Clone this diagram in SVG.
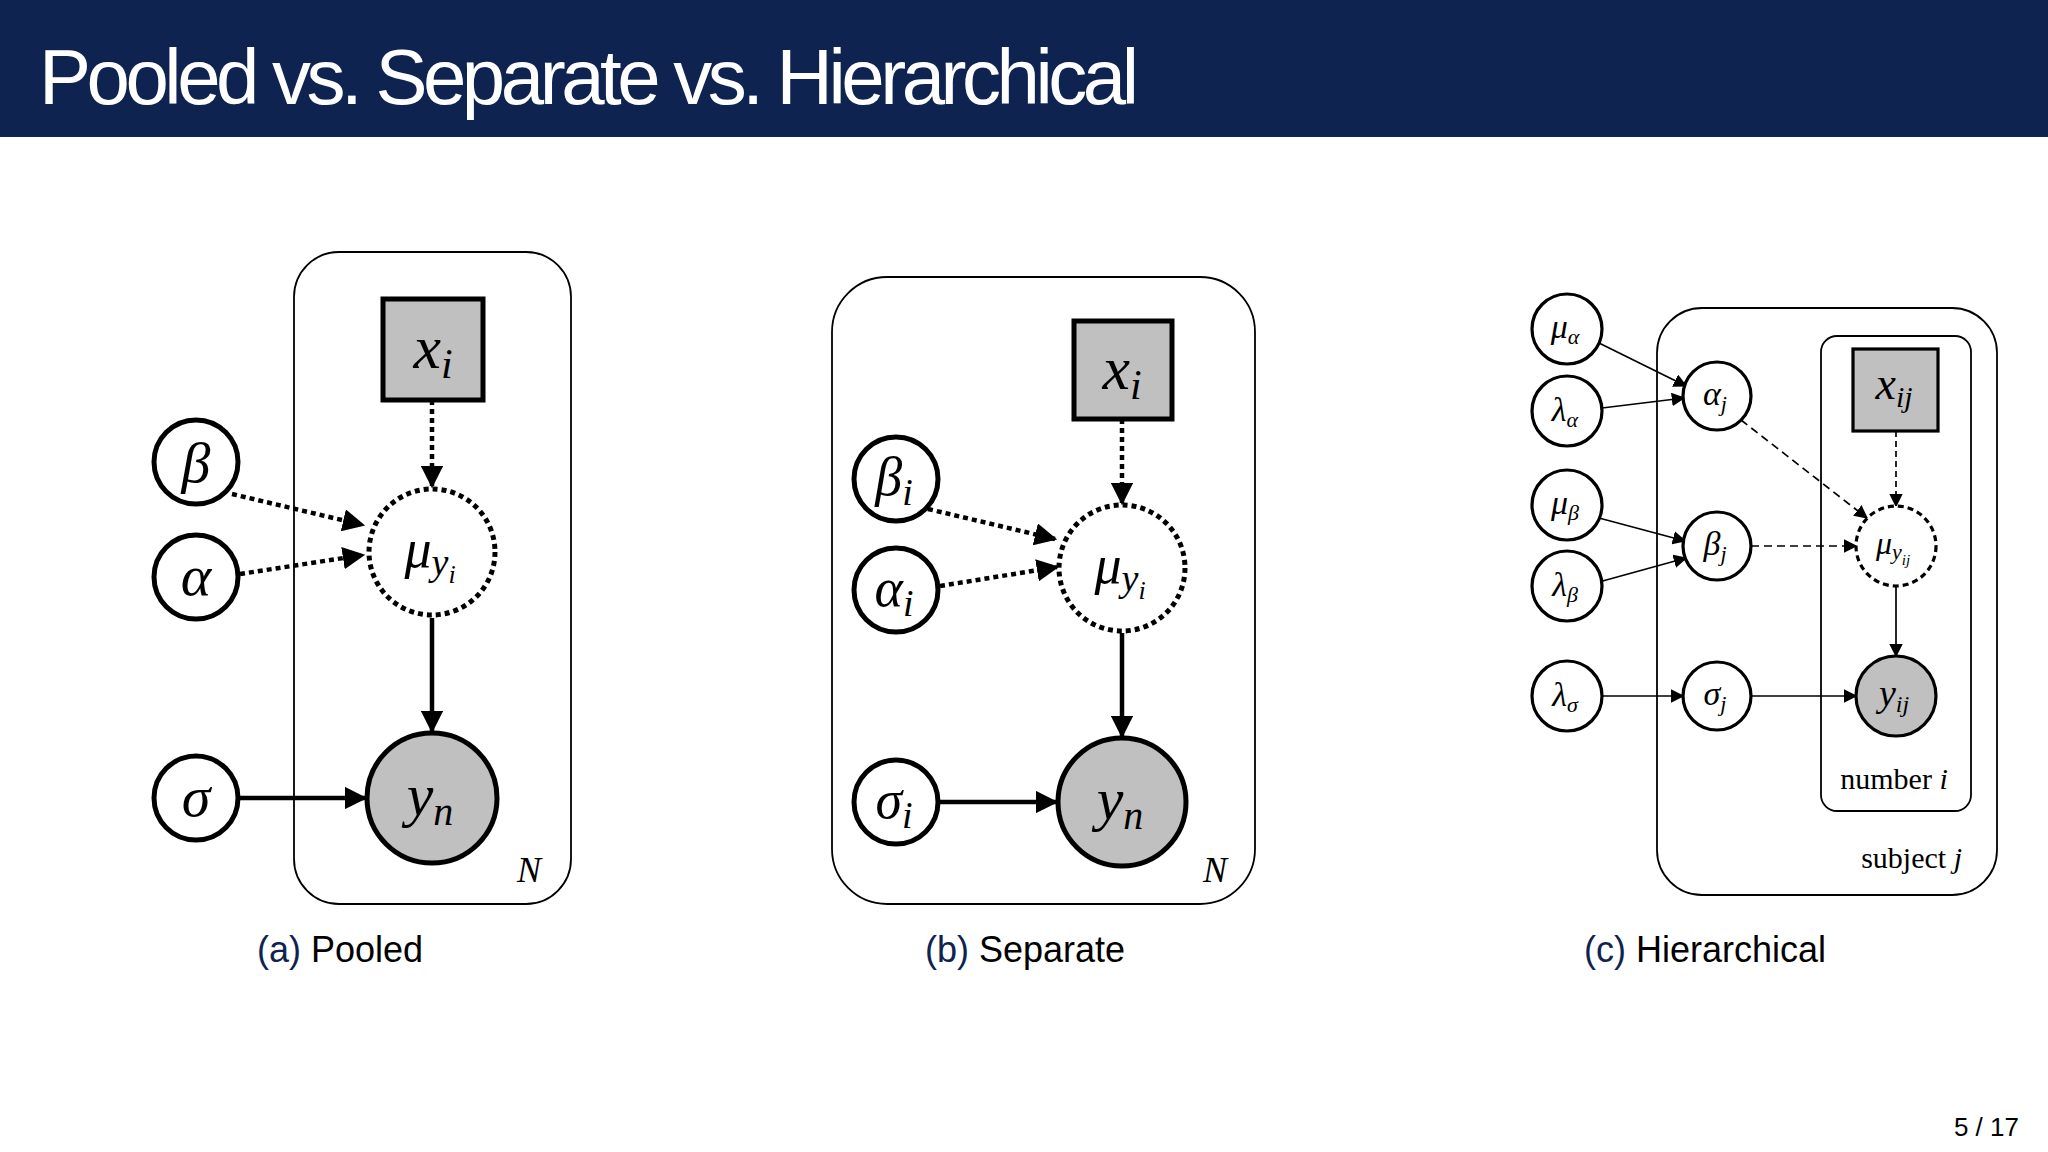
<svg xmlns="http://www.w3.org/2000/svg" width="2048" height="1152" viewBox="0 0 2048 1152">
<style>
.s{font-family:"Liberation Sans","DejaVu Sans",sans-serif}
.m{font-family:"Liberation Serif","DejaVu Serif",serif;font-style:italic;text-anchor:middle}
.r{font-family:"Liberation Serif","DejaVu Serif",serif}
.plate{fill:none;stroke:#000;stroke-width:1.8}
.big{fill:#fff;stroke:#000;stroke-width:5}
.bigo{fill:#c0c0c0;stroke:#000;stroke-width:5}
.sm{fill:#fff;stroke:#000;stroke-width:3.2}
.smo{fill:#c0c0c0;stroke:#000;stroke-width:3.2}
.e{stroke:#000;fill:none}
</style>
<defs>
<marker id="a" viewBox="0 0 10 10" refX="9" refY="5" markerWidth="5" markerHeight="5" orient="auto" markerUnits="strokeWidth"><path d="M0,0L10,5L0,10z" fill="#000"/></marker>
<marker id="b" viewBox="0 0 10 10" refX="9" refY="5" markerWidth="8" markerHeight="8" orient="auto" markerUnits="strokeWidth"><path d="M0,0L10,5L0,10z" fill="#000"/></marker>
</defs>
<rect width="2048" height="1152" fill="#fff"/>
<rect width="2048" height="137" fill="#0f2350"/>
<text class="s" x="39" y="104" font-size="78" fill="#fff" textLength="1100">Pooled vs. Separate vs. Hierarchical</text>

<g id="connectors">
<g stroke-width="4.5">
<line class="e" x1="232" y1="494" x2="363" y2="525" stroke-dasharray="5 4" marker-end="url(#a)"/>
<line class="e" x1="240" y1="574" x2="363" y2="555" stroke-dasharray="5 4" marker-end="url(#a)"/>
<line class="e" x1="432" y1="400" x2="432" y2="486" stroke-dasharray="5 4" marker-end="url(#a)"/>
<line class="e" x1="432" y1="618" x2="432" y2="731" marker-end="url(#a)"/>
<line class="e" x1="238" y1="798" x2="365" y2="798" marker-end="url(#a)"/>
<line class="e" x1="928" y1="509" x2="1055" y2="539" stroke-dasharray="5 4" marker-end="url(#a)"/>
<line class="e" x1="940" y1="586" x2="1057" y2="567" stroke-dasharray="5 4" marker-end="url(#a)"/>
<line class="e" x1="1122" y1="419" x2="1122" y2="503" stroke-dasharray="5 4" marker-end="url(#a)"/>
<line class="e" x1="1122" y1="633" x2="1122" y2="736" marker-end="url(#a)"/>
<line class="e" x1="938" y1="802" x2="1056" y2="802" marker-end="url(#a)"/>
</g>
<g stroke-width="1.7">
<line class="e" x1="1599" y1="343" x2="1686" y2="386" marker-end="url(#b)"/>
<line class="e" x1="1602" y1="408" x2="1684" y2="398" marker-end="url(#b)"/>
<line class="e" x1="1599" y1="518" x2="1685" y2="541" marker-end="url(#b)"/>
<line class="e" x1="1599" y1="582" x2="1686" y2="558" marker-end="url(#b)"/>
<line class="e" x1="1602" y1="696" x2="1683" y2="696" marker-end="url(#b)"/>
<line class="e" x1="1741" y1="420" x2="1867" y2="518" stroke-dasharray="8 5" marker-end="url(#b)"/>
<line class="e" x1="1751" y1="546" x2="1856" y2="546" stroke-dasharray="8 5" marker-end="url(#b)"/>
<line class="e" x1="1751" y1="696" x2="1856" y2="696" marker-end="url(#b)"/>
<line class="e" x1="1896" y1="431" x2="1896" y2="506" stroke-dasharray="6 4" marker-end="url(#b)"/>
<line class="e" x1="1896" y1="586" x2="1896" y2="656" marker-end="url(#b)"/>
</g>
</g>

<g id="plateA"><rect class="plate" x="294" y="252" width="277" height="652" rx="45"/><text class="m" x="529" y="882" font-size="36">N</text></g>
<g id="xA"><rect class="bigo" x="383" y="299" width="100" height="101"/><text class="m" x="433" y="368" font-size="62">x<tspan font-size="42" dy="10">i</tspan></text></g>
<g id="muA"><circle class="big" cx="432" cy="552" r="63" stroke-dasharray="5 4"/><text class="m" x="430" y="567" font-size="54">μ<tspan font-size="38" dy="8">y</tspan><tspan font-size="26" dy="8">i</tspan></text></g>
<g id="yA"><circle class="bigo" cx="432" cy="798" r="65"/><text class="m" x="430" y="815" font-size="60">y<tspan font-size="40" dy="10">n</tspan></text></g>
<g id="betaA"><circle class="big" cx="196" cy="462" r="42"/><text class="m" x="196" y="482" font-size="58">β</text></g>
<g id="alphaA"><circle class="big" cx="196" cy="577" r="42"/><text class="m" x="196" y="595" font-size="58">α</text></g>
<g id="sigmaA"><circle class="big" cx="196" cy="798" r="42"/><text class="m" x="196" y="816" font-size="58">σ</text></g>
<text class="s" x="257" y="962" font-size="36" fill="#0f2350">(a) <tspan fill="#000">Pooled</tspan></text>

<g id="plateB"><rect class="plate" x="832" y="277" width="423" height="627" rx="55"/><text class="m" x="1215" y="882" font-size="36">N</text></g>
<g id="xB"><rect class="bigo" x="1074" y="321" width="98" height="98"/><text class="m" x="1122" y="389" font-size="62">x<tspan font-size="42" dy="10">i</tspan></text></g>
<g id="muB"><circle class="big" cx="1122" cy="568" r="63" stroke-dasharray="5 4"/><text class="m" x="1120" y="583" font-size="54">μ<tspan font-size="38" dy="8">y</tspan><tspan font-size="26" dy="8">i</tspan></text></g>
<g id="yB"><circle class="bigo" cx="1122" cy="802" r="64"/><text class="m" x="1120" y="819" font-size="60">y<tspan font-size="40" dy="10">n</tspan></text></g>
<g id="betaB"><circle class="big" cx="896" cy="479" r="42"/><text class="m" x="894" y="495" font-size="54">β<tspan font-size="38" dy="10">i</tspan></text></g>
<g id="alphaB"><circle class="big" cx="896" cy="590" r="42"/><text class="m" x="894" y="606" font-size="54">α<tspan font-size="38" dy="10">i</tspan></text></g>
<g id="sigmaB"><circle class="big" cx="896" cy="802" r="42"/><text class="m" x="894" y="818" font-size="54">σ<tspan font-size="38" dy="10">i</tspan></text></g>
<text class="s" x="925" y="962" font-size="36" fill="#0f2350">(b) <tspan fill="#000">Separate</tspan></text>

<g id="plateSubject"><rect class="plate" x="1657" y="308" width="340" height="587" rx="45"/><text class="r" x="1962" y="868" font-size="30" text-anchor="end">subject <tspan font-style="italic">j</tspan></text></g>
<g id="plateNumber"><rect class="plate" x="1821" y="336" width="150" height="475" rx="16"/><text class="r" x="1894" y="789" font-size="30" text-anchor="middle">number <tspan font-style="italic">i</tspan></text></g>
<g id="muAlpha"><circle class="sm" cx="1567" cy="329" r="35"/><text class="m" x="1565" y="338" font-size="34">μ<tspan font-size="22" dy="6">α</tspan></text></g>
<g id="lambdaAlpha"><circle class="sm" cx="1567" cy="411" r="35"/><text class="m" x="1565" y="421" font-size="34">λ<tspan font-size="22" dy="6">α</tspan></text></g>
<g id="muBeta"><circle class="sm" cx="1567" cy="505" r="35"/><text class="m" x="1565" y="514" font-size="34">μ<tspan font-size="22" dy="6">β</tspan></text></g>
<g id="lambdaBeta"><circle class="sm" cx="1567" cy="586" r="35"/><text class="m" x="1565" y="596" font-size="34">λ<tspan font-size="22" dy="6">β</tspan></text></g>
<g id="lambdaSigma"><circle class="sm" cx="1567" cy="696" r="35"/><text class="m" x="1565" y="706" font-size="34">λ<tspan font-size="22" dy="6">σ</tspan></text></g>
<g id="alphaJ"><circle class="sm" cx="1717" cy="396" r="34"/><text class="m" x="1715" y="405" font-size="34">α<tspan font-size="22" dy="6">j</tspan></text></g>
<g id="betaJ"><circle class="sm" cx="1717" cy="546" r="34"/><text class="m" x="1715" y="555" font-size="34">β<tspan font-size="22" dy="6">j</tspan></text></g>
<g id="sigmaJ"><circle class="sm" cx="1717" cy="696" r="34"/><text class="m" x="1715" y="705" font-size="34">σ<tspan font-size="22" dy="6">j</tspan></text></g>
<g id="xC"><rect class="smo" x="1853" y="349" width="85" height="82"/><text class="m" x="1894" y="399" font-size="46">x<tspan font-size="30" dy="8">ij</tspan></text></g>
<g id="muC"><circle class="sm" cx="1896" cy="546" r="40" stroke-dasharray="6 4"/><text class="m" x="1893" y="554" font-size="32">μ<tspan font-size="22" dy="5">y</tspan><tspan font-size="15" dy="6">ij</tspan></text></g>
<g id="yC"><circle class="smo" cx="1896" cy="696" r="40"/><text class="m" x="1894" y="706" font-size="38">y<tspan font-size="24" dy="6">ij</tspan></text></g>
<text class="s" x="1584" y="962" font-size="36" fill="#0f2350">(c) <tspan fill="#000">Hierarchical</tspan></text>

<text class="s" x="2019" y="1136" font-size="26" text-anchor="end">5 / 17</text>
</svg>
